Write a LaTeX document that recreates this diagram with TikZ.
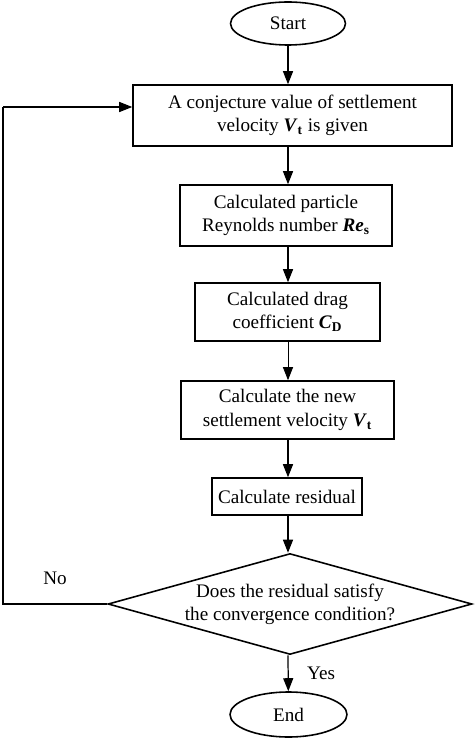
\documentclass[tikz,border=0pt]{standalone}
\usepackage{fontspec}
\setmainfont{Liberation Serif}
\usetikzlibrary{shapes.geometric,arrows.meta,positioning}

\tikzset{
  box/.style={draw,line width=0.9pt,align=center,inner sep=2pt},
  term/.style={draw,ellipse,line width=0.9pt,inner sep=1pt},
  decision/.style={draw,diamond,line width=0.9pt,align=center,inner sep=0pt,aspect=3.6},
  flow/.style={line width=0.7pt,-{Triangle[length=0.26cm,width=0.2cm]}}
}
\newcommand{\bsym}[2]{\textbf{\textit{#1}}\textsubscript{\textbf{#2}}}

\begin{document}
\begin{tikzpicture}[x=0.02cm,y=-0.02cm,font=\fontsize{10.9}{13.2}\selectfont]
\useasboundingbox (0,0) rectangle (474,739);

\node[term,minimum width=2.3cm,minimum height=0.86cm] (start) at (288,23.5) {Start};
\node[box,minimum width=6.38cm,minimum height=1.22cm] (guess) at (292.5,115.5) {A conjecture value of settlement\\velocity \bsym{V}{t} is given};
\node[box,minimum width=4.24cm,minimum height=1.22cm] (reyn) at (286,215.5) {Calculated particle\\Reynolds number \bsym{Re}{s}};
\node[box,minimum width=3.7cm,minimum height=1.16cm] (drag) at (287.5,312) {Calculated drag\\coefficient \bsym{C}{D}};
\node[box,minimum width=4.26cm,minimum height=1.16cm] (newv) at (287.5,410) {Calculate the new\\settlement velocity \bsym{V}{t}};
\node[box,minimum width=3.0cm,minimum height=0.74cm] (resid) at (287,496.5) {Calculate residual};
\node[decision,minimum width=7.28cm,minimum height=2.02cm] (check) at (290,604) {Does the residual satisfy\\the convergence condition?};
\node[term,minimum width=2.34cm,minimum height=0.9cm] (end) at (288.5,714.5) {End};

\coordinate (bend) at (3,604);
\coordinate (back) at (3,107);

\draw[flow] (start) -- (start |- guess.north);
\draw[flow] (start |- guess.south) -- (start |- reyn.north);
\draw[flow] (start |- reyn.south) -- (start |- drag.north);
\draw[flow,line width=0.5pt] (start |- drag.south) -- (start |- newv.north);
\draw[flow] (start |- newv.south) -- (start |- resid.north);
\draw[flow] (start |- resid.south) -- (start |- check.north);
\draw[flow] (start |- check.south) -- node[right=0.25cm] {Yes} (end);

\draw[line width=0.7pt] (check.west) -- node[above=0.25cm] {No} (bend) -- (back);
\draw[flow] (back) -- (back -| guess.west);

\end{tikzpicture}
\end{document}
